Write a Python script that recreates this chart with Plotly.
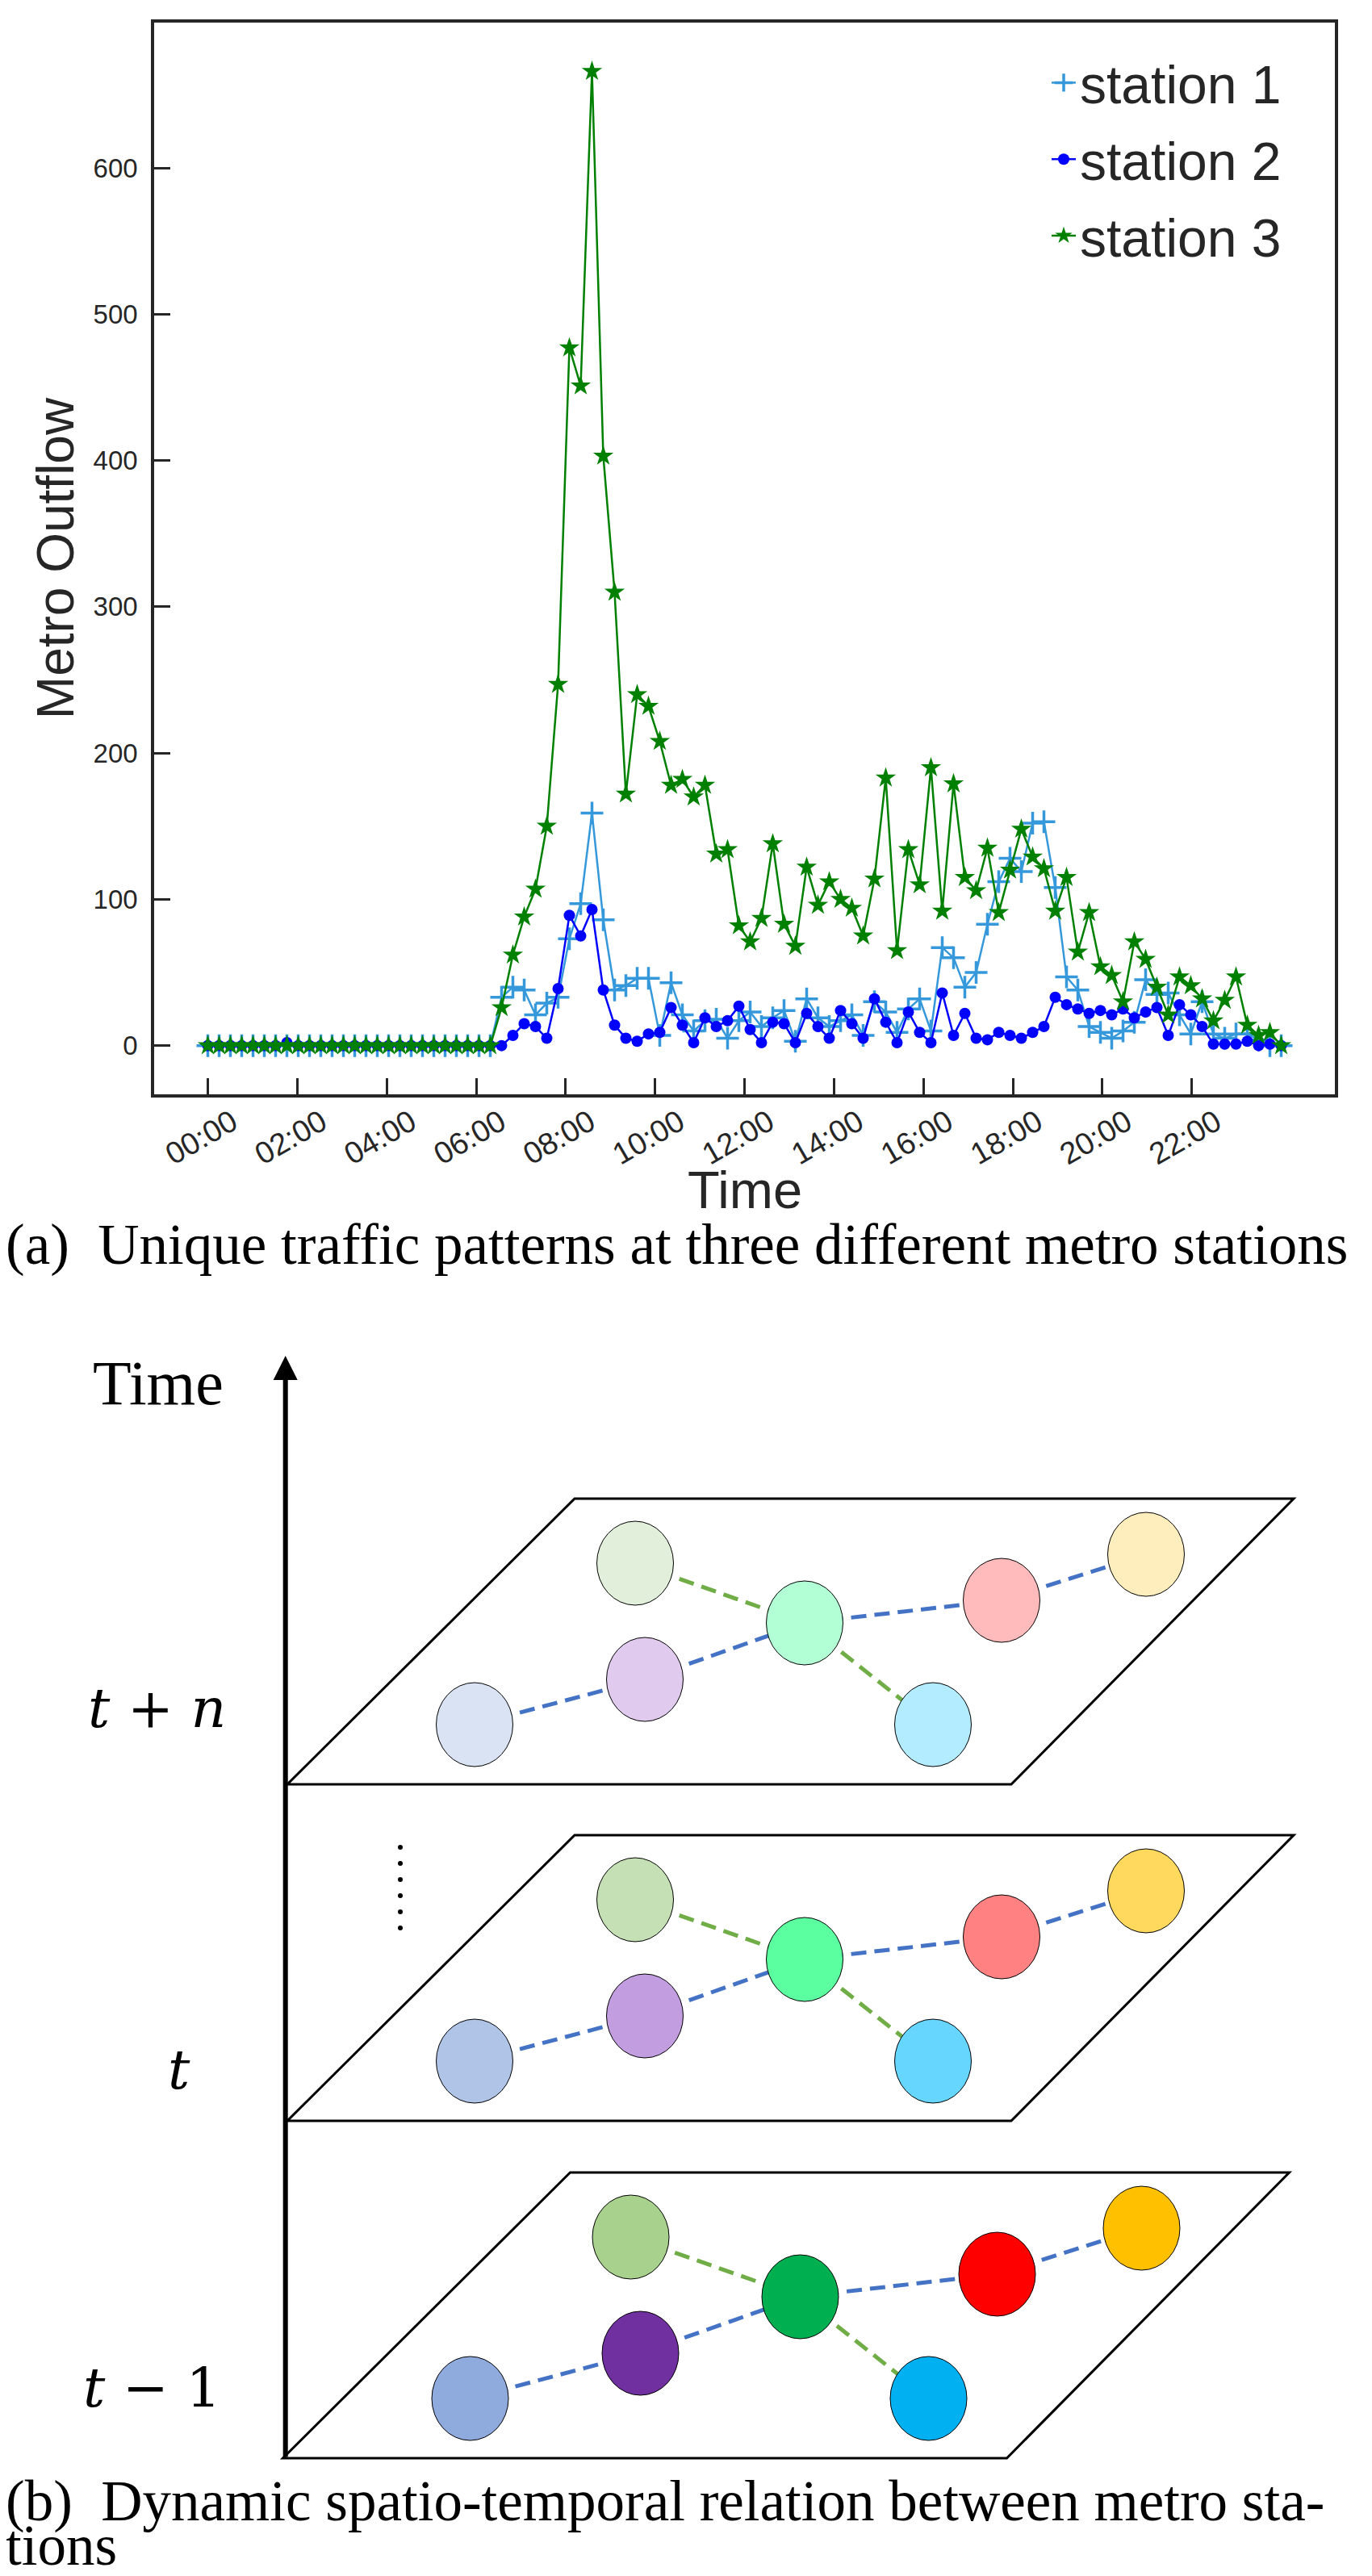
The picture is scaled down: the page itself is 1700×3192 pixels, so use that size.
import numpy as np
import pandas as pd
import plotly.graph_objects as go

# ---------------- panel (a) data : 96 samples over one day ----------------
times = pd.date_range("2019-04-01 00:00", "2019-04-02 00:00", periods=96)
tick_labels = ["00:00", "02:00", "04:00", "06:00", "08:00", "10:00",
               "12:00", "14:00", "16:00", "18:00", "20:00", "22:00"]
station_names = ["station 1", "station 2", "station 3"]

station1 = [0, 0, 0, 0, 0, 0, 0, 0, 0, 0, 0, 0, 0, 0, 0, 0, 0, 0, 0, 0, 0, 0, 0, 0, 0, 0,
            33, 40, 38, 21, 29, 33, 73, 97, 159, 86, 38, 41, 46, 46, 7, 43, 21, 10, 17, 18,
            5, 17, 23, 13, 19, 24, 3, 32, 19, 13, 17, 21, 7, 30, 23, 9, 25, 32, 10, 67,
            60, 40, 50, 83, 112, 128, 119, 152, 153, 108, 47, 38, 13, 9, 5, 10, 16, 45, 35, 36,
            21, 8, 30, 8, 5, 8, 8, 4, 0, 0]
station2 = [0, 0, 0, 0, 0, 0, 0, 2, 0, 0, 0, 0, 0, 0, 0, 0, 0, 0, 0, 0, 0, 0, 0, 0, 0, 0,
            0, 7, 15, 13, 5, 39, 89, 75, 93, 38, 14, 5, 3, 8, 9, 26, 14, 2, 19, 13,
            17, 27, 11, 2, 16, 15, 2, 22, 13, 5, 24, 15, 5, 32, 16, 2, 23, 9, 2, 36,
            7, 22, 5, 4, 9, 7, 5, 9, 13, 33, 28, 25, 22, 24, 21, 25, 19, 23, 26, 7,
            28, 21, 13, 1, 1, 1, 3, 0, 1, 0]
station3 = [0, 0, 0, 0, 0, 0, 0, 0, 0, 0, 0, 0, 0, 0, 0, 0, 0, 0, 0, 0, 0, 0, 0, 0, 0, 0,
            26, 62, 88, 107, 150, 247, 477, 451, 666, 403, 310, 172, 240, 232, 208, 178, 182, 170, 178, 131,
            134, 82, 71, 87, 138, 83, 68, 122, 96, 112, 100, 94, 75, 114, 183, 65, 134, 110, 190, 92,
            179, 115, 106, 135, 91, 120, 148, 129, 121, 92, 115, 64, 91, 54, 48, 30, 71, 59, 40, 21,
            47, 41, 32, 17, 31, 47, 14, 7, 9, 0]

# ---------------- panel (b) data : graph drawn on three time planes ----------------
layer_labels = ["t + n", "t", "t \u2212 1"]
layer_dx = [0, 0, -5.5]
layer_dy = [0, 417, 835]
plane_x = [348, 1245, 1595, 704]
plane_y = [2203, 2203, 1849, 1849]
node_names = ["A", "B", "C", "D", "E", "F", "G"]
node_x = [580, 791, 779, 989, 1233, 1412, 1148]
node_y = [2129, 2073, 1929, 2003, 1975, 1918, 2129]
node_colors = [
    ["#DAE3F3", "#E0CBEF", "#E2EFDA", "#B3FFD5", "#FFBBBB", "#FFEEBD", "#B3EBFF"],
    ["#AFC4E7", "#C29EE0", "#C5E0B4", "#5BFFA0", "#FF8181", "#FFD85E", "#66D6FF"],
    ["#8FAADC", "#7030A0", "#A9D18E", "#00B050", "#FF0000", "#FFC000", "#00B0F0"],
]
edges = [("A", "B", "blue"), ("B", "D", "blue"), ("C", "D", "green"),
         ("D", "G", "green"), ("D", "E", "blue"), ("E", "F", "blue")]
edge_colors = {"blue": "#4472C4", "green": "#70AD47"}

W, H = 1700, 3192
ink = "#262626"
sans = "Liberation Sans"
serif = "Liberation Serif"
mathfont = "DejaVu Serif"

fig = go.Figure()

styles = [
    dict(color="#3498db", symbol="cross-thin", size=20, lw=3.5),
    dict(color="#0000ff", symbol="circle", size=14, lw=0),
    dict(color="#008000", symbol="star", size=19, lw=0),
]
for name, vals, st in zip(station_names, [station1, station2, station3], styles):
    fig.add_trace(go.Scatter(
        x=times, y=vals, name=name, mode="lines+markers", legendgroup=name,
        line=dict(color=st["color"], width=2.5),
        marker=dict(symbol=st["symbol"], size=st["size"], color=st["color"],
                    line=dict(width=st["lw"], color=st["color"])),
    ))

span = times[-1] - times[0]
ymin, ymax = 0, max(station1 + station2 + station3)
ypad = 0.05 * (ymax - ymin)
tickvals = [pd.Timestamp("2019-04-01 " + t) for t in tick_labels]

# ---------------- panel (b) drawing ----------------
idx = {n: i for i, n in enumerate(node_names)}
shapes = []
for k in range(3):
    dx, dy = layer_dx[k], layer_dy[k]
    path = "M " + " L ".join(f"{px + dx},{py + dy}" for px, py in zip(plane_x, plane_y)) + " Z"
    shapes.append(dict(type="path", path=path, xref="x2", yref="y2", layer="below",
                       fillcolor="white", line=dict(color="black", width=3)))
    for col in ["blue", "green"]:
        ex, ey = [], []
        for a, b, c in edges:
            if c != col:
                continue
            ex += [node_x[idx[a]] + dx, node_x[idx[b]] + dx, None]
            ey += [node_y[idx[a]] + dy, node_y[idx[b]] + dy, None]
        fig.add_trace(go.Scatter(x=ex, y=ey, xaxis="x2", yaxis="y2", mode="lines",
                                 line=dict(color=edge_colors[col], width=5, dash="19px,10px"),
                                 showlegend=False, hoverinfo="skip"))
    for i in range(len(node_names)):
        cx, cy = node_x[i] + dx, node_y[i] + dy
        shapes.append(dict(type="circle", xref="x2", yref="y2", layer="above",
                           x0=cx - 47.5, x1=cx + 47.5, y0=cy - 52, y1=cy + 52,
                           fillcolor=node_colors[k][i], line=dict(color="black", width=1)))

# vertical ellipsis between the planes
dots_y = 2281 + 20 * np.arange(6)
fig.add_trace(go.Scatter(x=[488] * 6, y=dots_y, xaxis="x2", yaxis="y2", mode="markers",
                         marker=dict(color="black", size=6), showlegend=False, hoverinfo="skip"))

cap_font = dict(family=serif, size=71, color="black")
annotations = [
    # x-axis title of panel (a)
    dict(x=914.5, y=1466, xref="x2", yref="y2", text="Time", showarrow=False,
         font=dict(family=sans, size=65, color=ink)),
    # time arrow
    dict(x=345.7, y=1672, ax=345.7, ay=3038, xref="x2", yref="y2", axref="x2", ayref="y2",
         text="", showarrow=True, arrowhead=2, arrowsize=1, arrowwidth=6, arrowcolor="black"),
    dict(x=188, y=1705, xref="x2", yref="y2", text="Time", showarrow=False,
         font=dict(family=serif, size=78, color="black")),
    dict(x=0, y=1534, xref="x2", yref="y2", xanchor="left", xshift=-3, showarrow=False,
         text="(a)\u2002Unique traffic patterns at three different metro stations", font=cap_font),
    dict(x=0, y=3091, xref="x2", yref="y2", xanchor="left", xshift=-3, showarrow=False,
         text="(b)\u2002Dynamic spatio-temporal relation between metro sta-", font=cap_font),
    dict(x=0, y=3146, xref="x2", yref="y2", xanchor="left", xshift=-3, showarrow=False,
         text="tions", font=cap_font),
]
label_pos = [(186, 2108), (214, 2556), (180, 2950)]
for lab, (lx, ly) in zip(layer_labels, label_pos):
    parts = lab.split(" ")
    txt = " ".join(f"<i>{p}</i>" if p.isalpha() else p for p in parts)
    annotations.append(dict(x=lx, y=ly, xref="x2", yref="y2", text=txt, showarrow=False,
                            font=dict(family=mathfont, size=68, color="black")))

fig.update_layout(
    width=W, height=H, autosize=False,
    margin=dict(l=0, r=0, t=0, b=0),
    paper_bgcolor="white", plot_bgcolor="rgba(0,0,0,0)",
    xaxis=dict(
        domain=[183 / W, 1646 / W], type="date",
        range=[times[0] - 0.05 * span, times[-1] + 0.05 * span],
        tickvals=tickvals, ticktext=tick_labels, tickangle=-30,
        ticks="inside", ticklen=20, tickwidth=3, tickcolor=ink,
        ticklabelstandoff=-6, ticklabelshift=30,
        tickfont=dict(family=sans, size=38, color=ink),
        showline=True, mirror=True, linecolor=ink, linewidth=3.5, showgrid=False, zeroline=False,
    ),
    yaxis=dict(
        domain=[1 - 1348 / H, 1 - 20 / H],
        range=[ymin - ypad, ymax + ypad],
        tickvals=[0, 100, 200, 300, 400, 500, 600],
        ticks="inside", ticklen=20, tickwidth=3, tickcolor=ink, ticklabelstandoff=10,
        tickfont=dict(family=sans, size=33, color=ink),
        showline=True, mirror=True, linecolor=ink, linewidth=3.5, showgrid=False, zeroline=False,
        title=dict(text="Metro Outflow", font=dict(family=sans, size=64, color=ink), standoff=4),
    ),
    xaxis2=dict(domain=[0, 1], range=[0, W], visible=False, anchor="y2"),
    yaxis2=dict(domain=[0, 1], range=[H, 0], visible=False, anchor="x2"),
    legend=dict(x=1290 / W, y=1 - 45 / H, xanchor="left", yanchor="top",
                font=dict(family=sans, size=66, color=ink), bgcolor="rgba(0,0,0,0)",
                tracegroupgap=6),
    shapes=shapes,
    annotations=annotations,
    showlegend=True,
)

fig.write_html("out.html")
